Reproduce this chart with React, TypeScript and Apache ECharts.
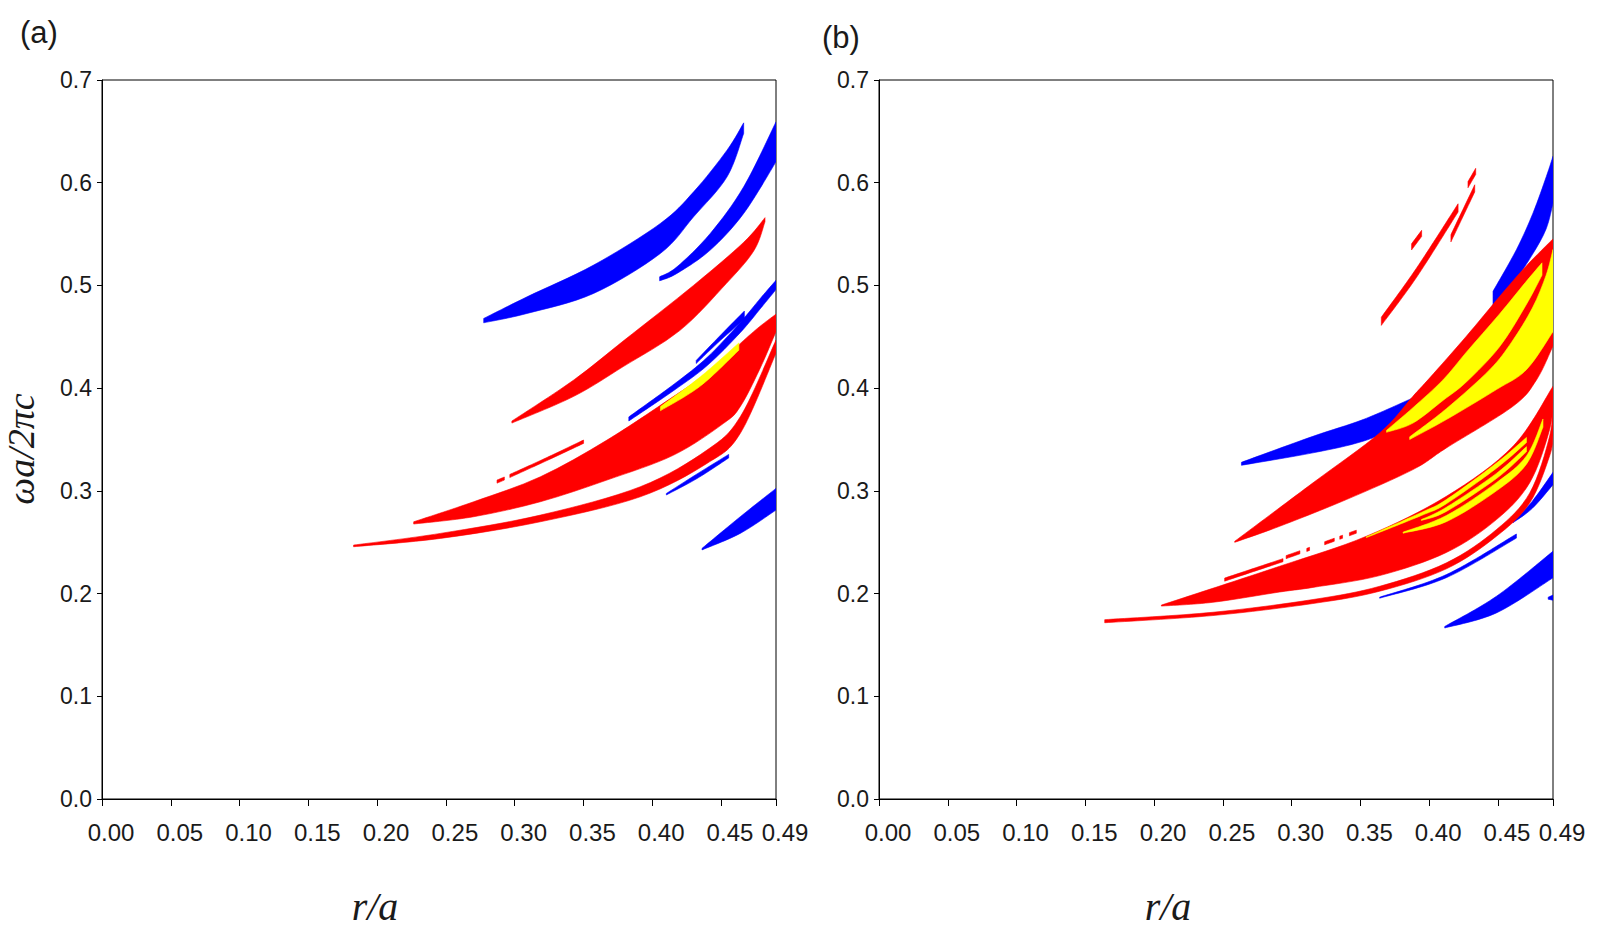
import React, { useEffect, useRef } from "react";
import * as echarts from "echarts";

// ---------- axis ticks ----------
const xTicks = [0, 0.05, 0.1, 0.15, 0.2, 0.25, 0.3, 0.35, 0.4, 0.45, 0.49];
const yMin = 0;
const yMax = 0.7;
const yStep = 0.1;

const BLUE = "#0000ff";
const RED = "#ff0000";
const YELLOW = "#ffff00";

// ---------- panel (a): gap regions, [r/a, wa/2pic] along upper & lower edges ----------
const aBlue1Upper = [[0.2775, 0.4679], [0.309, 0.4889], [0.3574, 0.5198], [0.4059, 0.5603], [0.4301, 0.5911], [0.4544, 0.6317], [0.4665, 0.6583]];
const aBlue1Lower = [[0.2775, 0.4636], [0.309, 0.4727], [0.3574, 0.4922], [0.4059, 0.5311], [0.4301, 0.5668], [0.4544, 0.6057], [0.4665, 0.648]];
const aBlue2Upper = [[0.4054, 0.5084], [0.418, 0.5181], [0.4422, 0.5506], [0.4665, 0.596], [0.49, 0.6592]];
const aBlue2Lower = [[0.4054, 0.5045], [0.418, 0.5117], [0.4422, 0.5344], [0.4665, 0.5701], [0.49, 0.6203]];
const aBlue3Upper = [[0.383, 0.372], [0.416, 0.404], [0.44, 0.43], [0.464, 0.464], [0.479, 0.488], [0.49, 0.505]];
const aBlue3Lower = [[0.383, 0.368], [0.416, 0.398], [0.44, 0.422], [0.464, 0.454], [0.479, 0.478], [0.49, 0.496]];
const aBlue4Upper = [[0.432, 0.427], [0.45, 0.452], [0.467, 0.475]];
const aBlue4Lower = [[0.432, 0.424], [0.45, 0.447], [0.467, 0.467]];
const aBlue5Upper = [[0.4103, 0.2975], [0.4326, 0.3165], [0.4556, 0.3355]];
const aBlue5Lower = [[0.4103, 0.296], [0.4326, 0.312], [0.4556, 0.332]];
const aBlue6Upper = [[0.4362, 0.244], [0.464, 0.2748], [0.49, 0.3024]];
const aBlue6Lower = [[0.4362, 0.2425], [0.464, 0.2586], [0.49, 0.2813]];

const aRed1Upper = [[0.298, 0.368], [0.343, 0.408], [0.38, 0.447], [0.43, 0.5], [0.4665, 0.542], [0.482, 0.566]];
const aRed1Lower = [[0.298, 0.366], [0.343, 0.392], [0.379, 0.421], [0.42, 0.456], [0.454, 0.502], [0.474, 0.534], [0.482, 0.562]];
const aRed2Upper = [[0.2266, 0.2699], [0.2702, 0.2894], [0.3187, 0.3137], [0.3671, 0.3494], [0.4156, 0.392], [0.44, 0.415], [0.4737, 0.455], [0.49, 0.472]];
const aRed2Lower = [[0.2266, 0.2677], [0.2702, 0.2748], [0.3187, 0.2894], [0.3671, 0.3105], [0.4156, 0.3348], [0.4519, 0.3657], [0.464, 0.382], [0.478, 0.418], [0.49, 0.455]];
const aRed3Upper = [[0.1829, 0.2472], [0.246, 0.2586], [0.3187, 0.2764], [0.3913, 0.304], [0.4398, 0.3397], [0.464, 0.3721], [0.49, 0.4468]];
const aRed3Lower = [[0.1829, 0.2456], [0.246, 0.2537], [0.3187, 0.2699], [0.3913, 0.2942], [0.4398, 0.3267], [0.464, 0.3559], [0.49, 0.434]];
const aStreak1Upper = [[0.2872, 0.3105], [0.2925, 0.3135]];
const aStreak1Lower = [[0.2872, 0.3075], [0.2925, 0.3105]];
const aStreak2Upper = [[0.2965, 0.316], [0.3235, 0.3325], [0.3501, 0.3495]];
const aStreak2Lower = [[0.2965, 0.313], [0.3235, 0.3295], [0.3501, 0.3462]];

const aYellowUpper = [[0.406, 0.382], [0.435, 0.411], [0.463, 0.444]];
const aYellowLower = [[0.406, 0.378], [0.435, 0.402], [0.463, 0.437]];

// ---------- panel (b) ----------
const bBlue1Upper = [[0.2635, 0.3278], [0.3155, 0.3531], [0.3519, 0.3694], [0.3882, 0.3905]];
const bBlue1Lower = [[0.2635, 0.3249], [0.3155, 0.337], [0.3519, 0.3483], [0.3882, 0.3667]];
const bBlue2Upper = [[0.4464, 0.4943], [0.4634, 0.5348], [0.4755, 0.5706], [0.4852, 0.6062], [0.49, 0.6257]];
const bBlue2Lower = [[0.4464, 0.48], [0.46, 0.5], [0.475, 0.53], [0.485, 0.555], [0.49, 0.58]];
const bBlueThinUpper = [[0.364, 0.1965], [0.4125, 0.2185], [0.4634, 0.258]];
const bBlueThinLower = [[0.364, 0.1955], [0.4125, 0.2155], [0.4634, 0.254]];
const bBlueLowUpper = [[0.4113, 0.168], [0.4489, 0.1974], [0.49, 0.2412]];
const bBlueLowLower = [[0.4113, 0.1665], [0.4489, 0.1812], [0.49, 0.2153]];
const bBlueChipUpper = [[0.4865, 0.1965], [0.49, 0.1985]];
const bBlueChipLower = [[0.4865, 0.1945], [0.49, 0.1935]];
const bBlueMidUpper = [[0.4609, 0.27], [0.475, 0.29], [0.49, 0.318]];
const bBlueMidLower = [[0.4609, 0.269], [0.475, 0.283], [0.49, 0.306]];

const bRed1Upper = [[0.2586, 0.2509], [0.3155, 0.3078], [0.364, 0.3564], [0.3882, 0.3921], [0.4004, 0.41], [0.427, 0.4505], [0.4513, 0.4894], [0.4706, 0.519], [0.49, 0.5453]];
const bRed1Lower = [[0.2586, 0.2499], [0.2913, 0.2655], [0.3398, 0.2915], [0.3882, 0.3207], [0.4125, 0.3418], [0.4609, 0.3823], [0.478, 0.408], [0.49, 0.441]];
const bRed2Upper = [[0.2053, 0.1888], [0.2913, 0.2266], [0.3543, 0.2558], [0.4125, 0.2947], [0.4609, 0.3434], [0.49, 0.4018]];
const bRed2Lower = [[0.2053, 0.1878], [0.2428, 0.1915], [0.2913, 0.2015], [0.3155, 0.206], [0.364, 0.2175], [0.4125, 0.24], [0.4489, 0.272], [0.4731, 0.308], [0.4876, 0.36], [0.49, 0.39]];
const bRed3Upper = [[0.1641, 0.1746], [0.2428, 0.1818], [0.3155, 0.1942], [0.364, 0.2071], [0.4125, 0.2299], [0.4489, 0.2623], [0.4731, 0.298], [0.4876, 0.3536], [0.49, 0.3889]];
const bRed3Lower = [[0.1641, 0.1716], [0.2428, 0.1786], [0.3155, 0.1903], [0.364, 0.2023], [0.4125, 0.2241], [0.4489, 0.2558], [0.4731, 0.2883], [0.4876, 0.3342], [0.49, 0.3536]];
const bStreak1Upper = [[0.3652, 0.4691], [0.3907, 0.5167], [0.421, 0.5795]];
const bStreak1Lower = [[0.3652, 0.4611], [0.3907, 0.5077], [0.421, 0.5715]];
const bStreak2Upper = [[0.4158, 0.5494], [0.4331, 0.598]];
const bStreak2Lower = [[0.4158, 0.5424], [0.4331, 0.591]];
const bDot1Upper = [[0.3872, 0.5406], [0.3945, 0.5536]];
const bDot1Lower = [[0.3872, 0.5346], [0.3945, 0.5476]];
const bDot2Upper = [[0.4282, 0.6011], [0.4338, 0.614]];
const bDot2Lower = [[0.4282, 0.5951], [0.4338, 0.608]];
const bDash1Upper = [[0.2513, 0.2151], [0.2937, 0.234]];
const bDash1Lower = [[0.2513, 0.2121], [0.2937, 0.231]];
const bDash2Upper = [[0.296, 0.237], [0.306, 0.2417]];
const bDash2Lower = [[0.296, 0.234], [0.306, 0.2387]];
const bDash3Upper = [[0.311, 0.244], [0.313, 0.245]];
const bDash3Lower = [[0.311, 0.241], [0.313, 0.242]];
const bDash4Upper = [[0.324, 0.2505], [0.331, 0.2539]];
const bDash4Lower = [[0.324, 0.2475], [0.331, 0.2509]];
const bDash5Upper = [[0.335, 0.2559], [0.337, 0.2568]];
const bDash5Lower = [[0.335, 0.2529], [0.337, 0.2538]];
const bDash6Upper = [[0.342, 0.2593], [0.347, 0.2617]];
const bDash6Lower = [[0.342, 0.2563], [0.347, 0.2587]];

const bY1Upper = [[0.369, 0.359], [0.3882, 0.381], [0.41, 0.408], [0.427, 0.435], [0.451, 0.472], [0.47, 0.503], [0.482, 0.522]];
const bY1Lower = [[0.369, 0.357], [0.3882, 0.366], [0.41, 0.388], [0.427, 0.406], [0.451, 0.44], [0.47, 0.48], [0.482, 0.51]];
const bY2Upper = [[0.3858, 0.3526], [0.4125, 0.38], [0.444, 0.418], [0.46, 0.445], [0.475, 0.478], [0.485, 0.51], [0.49, 0.535]];
const bY2Lower = [[0.3858, 0.35], [0.4125, 0.3694], [0.4489, 0.3986], [0.4707, 0.418], [0.49, 0.455]];
const bY3Upper = [[0.3543, 0.2552], [0.3943, 0.279], [0.4125, 0.2915], [0.4489, 0.327], [0.4707, 0.352]];
const bY3Lower = [[0.3543, 0.2545], [0.3943, 0.276], [0.4125, 0.2875], [0.4489, 0.322], [0.4707, 0.347]];
const bY4Upper = [[0.3943, 0.272], [0.4125, 0.284], [0.4489, 0.317], [0.4707, 0.343]];
const bY4Lower = [[0.3943, 0.2712], [0.4125, 0.28], [0.4489, 0.312], [0.4707, 0.338]];
const bY5Upper = [[0.381, 0.2598], [0.4125, 0.276], [0.4489, 0.308], [0.4707, 0.334], [0.4827, 0.37]];
const bY5Lower = [[0.381, 0.2588], [0.4125, 0.27], [0.4489, 0.3], [0.4707, 0.326], [0.4827, 0.362]];

type Region = { upper: number[][]; lower: number[][]; color: string };

const regionsA: Region[] = [
  { upper: aBlue1Upper, lower: aBlue1Lower, color: BLUE },
  { upper: aBlue2Upper, lower: aBlue2Lower, color: BLUE },
  { upper: aBlue3Upper, lower: aBlue3Lower, color: BLUE },
  { upper: aBlue4Upper, lower: aBlue4Lower, color: BLUE },
  { upper: aBlue5Upper, lower: aBlue5Lower, color: BLUE },
  { upper: aBlue6Upper, lower: aBlue6Lower, color: BLUE },
  { upper: aRed1Upper, lower: aRed1Lower, color: RED },
  { upper: aRed2Upper, lower: aRed2Lower, color: RED },
  { upper: aRed3Upper, lower: aRed3Lower, color: RED },
  { upper: aStreak1Upper, lower: aStreak1Lower, color: RED },
  { upper: aStreak2Upper, lower: aStreak2Lower, color: RED },
  { upper: aYellowUpper, lower: aYellowLower, color: YELLOW },
];

const regionsB: Region[] = [
  { upper: bBlue1Upper, lower: bBlue1Lower, color: BLUE },
  { upper: bBlue2Upper, lower: bBlue2Lower, color: BLUE },
  { upper: bBlueThinUpper, lower: bBlueThinLower, color: BLUE },
  { upper: bBlueLowUpper, lower: bBlueLowLower, color: BLUE },
  { upper: bBlueChipUpper, lower: bBlueChipLower, color: BLUE },
  { upper: bBlueMidUpper, lower: bBlueMidLower, color: BLUE },
  { upper: bRed1Upper, lower: bRed1Lower, color: RED },
  { upper: bRed2Upper, lower: bRed2Lower, color: RED },
  { upper: bRed3Upper, lower: bRed3Lower, color: RED },
  { upper: bStreak1Upper, lower: bStreak1Lower, color: RED },
  { upper: bStreak2Upper, lower: bStreak2Lower, color: RED },
  { upper: bDot1Upper, lower: bDot1Lower, color: RED },
  { upper: bDot2Upper, lower: bDot2Lower, color: RED },
  { upper: bDash1Upper, lower: bDash1Lower, color: RED },
  { upper: bDash2Upper, lower: bDash2Lower, color: RED },
  { upper: bDash3Upper, lower: bDash3Lower, color: RED },
  { upper: bDash4Upper, lower: bDash4Lower, color: RED },
  { upper: bDash5Upper, lower: bDash5Lower, color: RED },
  { upper: bDash6Upper, lower: bDash6Lower, color: RED },
  { upper: bY1Upper, lower: bY1Lower, color: YELLOW },
  { upper: bY2Upper, lower: bY2Lower, color: YELLOW },
  { upper: bY3Upper, lower: bY3Lower, color: YELLOW },
  { upper: bY4Upper, lower: bY4Lower, color: YELLOW },
  { upper: bY5Upper, lower: bY5Lower, color: YELLOW },
];

const FONT = "Liberation Sans";

// smooth (Catmull-Rom -> cubic Bezier) stroke through already-projected pixel points
function curveThrough(pts: number[][]): string {
  let d = "";
  for (let i = 0; i < pts.length - 1; i++) {
    const p0 = pts[i - 1] || pts[i];
    const p1 = pts[i];
    const p2 = pts[i + 1];
    const p3 = pts[i + 2] || p2;
    const c1x = p1[0] + (p2[0] - p0[0]) / 6;
    const c1y = p1[1] + (p2[1] - p0[1]) / 6;
    const c2x = p2[0] - (p3[0] - p1[0]) / 6;
    const c2y = p2[1] - (p3[1] - p1[1]) / 6;
    d += ` C ${c1x} ${c1y} ${c2x} ${c2y} ${p2[0]} ${p2[1]}`;
  }
  return d;
}

function makeRegionSeries(regions: Region[], idx: number) {
  return {
    type: "custom",
    xAxisIndex: idx,
    yAxisIndex: idx,
    clip: true,
    data: regions.map((r, i) => [r.upper[0][0], r.upper[0][1], i]),
    encode: { x: 0, y: 1 },
    renderItem: (params: any, api: any) => {
      const reg = regions[params.dataIndex];
      const up = reg.upper.map((p) => api.coord(p));
      const lo = reg.lower.slice().reverse().map((p) => api.coord(p));
      const d =
        `M ${up[0][0]} ${up[0][1]}` +
        curveThrough(up) +
        ` L ${lo[0][0]} ${lo[0][1]}` +
        curveThrough(lo) +
        " Z";
      return {
        type: "path",
        shape: { pathData: d },
        style: { fill: reg.color, stroke: reg.color, lineWidth: 0.6 },
      };
    },
  };
}

function xAxisCfg(gridIndex: number) {
  return {
    gridIndex,
    type: "value",
    min: 0,
    max: 0.49,
    interval: 0.05,
    axisLine: { show: true, onZero: false, lineStyle: { color: "#000", width: 1 } },
    axisTick: { show: true, inside: false, length: 7, customValues: xTicks, lineStyle: { color: "#000" } },
    axisLabel: {
      customValues: xTicks,
      formatter: (v: number) => v.toFixed(2),
      fontSize: 24,
      fontFamily: FONT,
      color: "#1a1a1a",
      margin: 21,
      padding: [0, 0, 0, 18],
    },
    splitLine: { show: false },
  };
}

function yAxisCfg(gridIndex: number) {
  return {
    gridIndex,
    type: "value",
    min: yMin,
    max: yMax,
    interval: yStep,
    axisLine: { show: true, onZero: false, lineStyle: { color: "#000", width: 1 } },
    axisTick: { show: true, inside: false, length: 5, lineStyle: { color: "#000" } },
    axisLabel: {
      formatter: (v: number) => v.toFixed(1),
      fontSize: 23,
      fontFamily: FONT,
      color: "#1a1a1a",
      margin: 10,
    },
    splitLine: { show: false },
  };
}

export default function App() {
  const ref = useRef<HTMLDivElement>(null);
  useEffect(() => {
    if (!ref.current) return;
    const chart = echarts.init(ref.current, null, { renderer: "svg" });
    chart.setOption({
      animation: false,
      backgroundColor: "#ffffff",
      grid: [
        { left: 102, top: 80, width: 674, height: 719, show: true, borderColor: "#000", borderWidth: 1 },
        { left: 879, top: 80, width: 674, height: 719, show: true, borderColor: "#000", borderWidth: 1 },
      ],
      xAxis: [xAxisCfg(0), xAxisCfg(1)],
      yAxis: [yAxisCfg(0), yAxisCfg(1)],
      series: [makeRegionSeries(regionsA, 0), makeRegionSeries(regionsB, 1)],
      graphic: [
        { type: "text", left: 20, top: 17, style: { text: "(a)", fontSize: 31, fontFamily: FONT, fill: "#1a1a1a" } },
        { type: "text", left: 822, top: 22, style: { text: "(b)", fontSize: 31, fontFamily: FONT, fill: "#1a1a1a" } },
        {
          type: "text",
          x: 375,
          y: 906,
          style: { text: "r/a", fontSize: 40, fontStyle: "italic", fontFamily: "Liberation Serif", fill: "#1a1a1a", align: "center", verticalAlign: "middle" },
        },
        {
          type: "text",
          x: 1168,
          y: 906,
          style: { text: "r/a", fontSize: 40, fontStyle: "italic", fontFamily: "Liberation Serif", fill: "#1a1a1a", align: "center", verticalAlign: "middle" },
        },
        {
          type: "text",
          x: 21,
          y: 449,
          rotation: Math.PI / 2,
          style: { text: "ωa/2πc", fontSize: 38, fontStyle: "italic", fontFamily: "Liberation Serif", fill: "#1a1a1a", align: "center", verticalAlign: "middle" },
        },
      ],
    });
    return () => chart.dispose();
  }, []);
  return (
    <div
      ref={ref}
      style={{ position: "absolute", left: 0, top: 0, width: 1600, height: 945, background: "#fff" }}
    />
  );
}
